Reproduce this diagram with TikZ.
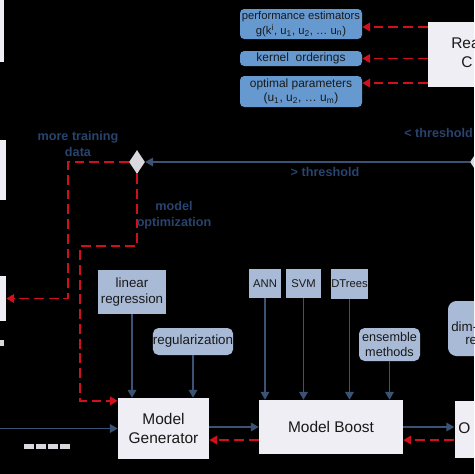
\documentclass[tikz,border=0pt]{standalone}
\usepackage{fontspec}
\setmainfont{Liberation Sans}
\usepackage{tikz}
\usetikzlibrary{positioning,arrows.meta,shapes.geometric}
\definecolor{figPale}{HTML}{EEEEF4}
\definecolor{figSteel}{HTML}{A9BAD6}
\definecolor{figMid}{HTML}{6699CF}
\definecolor{figArrow}{HTML}{3A5273}
\definecolor{figLabel}{HTML}{28436E}
\definecolor{figRed}{HTML}{D0101A}
\definecolor{figGray}{HTML}{D8D8DE}

\begin{document}
\begin{tikzpicture}[x=0.25mm, y=-0.25mm,
  >={Triangle[length=5.5pt,width=6pt]},
  every node/.style={font=\fontsize{11}{13}\selectfont, text=black!90},
  stagebox/.style={rectangle, fill=figPale, inner sep=0pt, align=center},
  toolbox/.style={rectangle, fill=figSteel, inner sep=0pt, align=center,
    font=\fontsize{9.5}{11.5}\selectfont},
  toolround/.style={toolbox, rounded corners=4pt},
  outbox/.style={rectangle, rounded corners=3pt, fill=figMid, inner sep=0pt,
    align=center, font=\fontsize{8.5}{10}\selectfont},
  gate/.style={diamond, fill=figGray, minimum width=4mm, minimum height=6mm, inner sep=0pt},
  flowlabel/.style={font=\fontsize{9}{11}\selectfont\bfseries, text=figLabel,
    align=center, inner sep=0pt},
  blueflow/.style={->, draw=figArrow, line width=1.1pt},
  redflow/.style={->, draw=figRed, line width=1.4pt, dash pattern=on 7pt off 3.5pt},
]

\useasboundingbox (0,0) rectangle (474,474);
\clip (0,0) rectangle (474,474);
\fill[black] (0,0) rectangle (474,474);

% ======= Left column (cut off) =======
\node[stagebox, minimum width=6mm, minimum height=18mm] (lboxa) at (-8,26) {};
\node[stagebox, minimum width=6.5mm, minimum height=15mm] (lboxb) at (-7,170) {};
\node[stagebox, minimum width=6.5mm, minimum height=11.25mm] (lboxc) at (-7,298.5) {};
\node[stagebox, fill=figGray, minimum width=3.5mm, minimum height=1.5mm] (lboxd) at (-3,343) {};
\foreach \i in {0,...,3}
  \node[stagebox, fill=figGray, minimum width=2.6mm, minimum height=1.3mm] (sq\i) at ({29+12*\i},446.5) {};

% ======= Top outputs =======
\node[outbox, minimum width=30.5mm, minimum height=7.5mm, font=\fontsize{8}{10.5}\selectfont] (perf) at (301,24)
  {performance estimators\\g(k\textsuperscript{i}, u\textsubscript{1}, u\textsubscript{2}, \dots\ u\textsubscript{n})};
\node[outbox, minimum width=30.5mm, minimum height=3.75mm] (kern) at (301,58.5)
  {kernel\ \ orderings};
\node[outbox, minimum width=30.5mm, minimum height=7.75mm] (optp) at (301,91.5)
  {optimal parameters\\(u\textsubscript{1}, u\textsubscript{2}, \dots\ u\textsubscript{m})};

\node[stagebox, minimum width=23mm, minimum height=16.25mm] (rc) at (474,54.5) {};
\node[anchor=west, inner sep=0pt] (rctxta) at (451,43) {Rea};
\node[anchor=west, inner sep=0pt] (rctxtb) at (461,62) {C};

\draw[redflow] ([yshift=-0.75mm]perf.east -| rc.west) -- ([yshift=-0.75mm]perf.east);
\draw[redflow] (kern.east -| rc.west) -- (kern.east);
\draw[redflow] ([yshift=2.1mm]optp.east -| rc.west) -- ([yshift=2.1mm]optp.east);

% ======= Threshold gates =======
\node[gate] (dia) at (137,162) {};
\node[gate] (diaR) at (478,162) {};
\draw[blueflow] (diaR.west) -- (dia.east);
\node[flowlabel] (gtlbl) at (325,172) {> threshold};
\node[flowlabel, anchor=west] (ltlbl) at (404,133) {< threshold};
\node[flowlabel] (moredata) at (78,144) {more training\\data};
\node[flowlabel] (modelopt) at (174,215) {model\\optimization};

% ======= Model Generator =======
\node[toolbox, minimum width=17mm, minimum height=11mm] (linreg) at (132,292) {linear\\regression};
\node[toolround, minimum width=20mm, minimum height=6.75mm] (regul) at (193,341.5) {regularization};
\node[stagebox, minimum width=22.75mm, minimum height=15.25mm] (mg) at (163.5,428.5) {Model\\Generator};

\draw[blueflow] (linreg.south) -- (linreg.south |- mg.north);
\draw[blueflow] (regul.south) -- (regul.south |- mg.north);
\coordinate (inL) at (-10,428.5);
\draw[blueflow] (inL) -- (mg.west);

% feedback loops
\draw[redflow] (dia.west) -- ++(-61,0) |- (lboxc.east);
\draw[redflow] (dia.south) -- ++(0,72) -- ++(-57,0) |- ([yshift=6.9mm]mg.west);

% ======= Model Boost =======
\node[toolbox, font=\fontsize{8}{10}\selectfont, minimum width=8mm, minimum height=7.25mm] (ann) at (265,283.5) {ANN};
\node[toolbox, font=\fontsize{8}{10}\selectfont, minimum width=8.75mm, minimum height=7.25mm] (svm) at (303.5,283.5) {SVM};
\node[toolbox, font=\fontsize{8}{10}\selectfont, minimum width=9.25mm, minimum height=7.5mm] (dtrees) at (349.5,284) {DTrees};
\node[toolround, minimum width=15.25mm, minimum height=8.25mm, font=\fontsize{9}{10.5}\selectfont] (ensem) at (389.5,344.5) {ensemble\\methods};
\node[stagebox, minimum width=36mm, minimum height=13.5mm] (mb) at (331,427) {Model Boost};

\foreach \t in {ann,svm,dtrees,ensem}
  \draw[blueflow] (\t.south) -- (\t.south |- mb.north);

\draw[blueflow] (mg.east |- mb.west) -- (mb.west);
\draw[redflow] ([yshift=-3.25mm]mb.west) -- ([yshift=-3.25mm]mb.west -| mg.east);

% ======= Right column (cut off) =======
\node[toolround, minimum width=18mm, minimum height=13.75mm, rounded corners=6pt] (dimred) at (484,328.5) {};
\node[anchor=west, inner sep=0pt, font=\fontsize{9.5}{11}\selectfont] (dimtxta) at (451,327) {dim-};
\node[anchor=west, inner sep=0pt, font=\fontsize{9.5}{11}\selectfont] (dimtxtb) at (465,341) {re};
\node[stagebox, minimum width=18.75mm, minimum height=14.25mm] (obox) at (492,429.5) {};
\node[anchor=west, inner sep=0pt] (otxt) at (458,428) {O};

\draw[blueflow] (mb.east) -- (mb.east -| obox.west);
\draw[redflow] ([yshift=-3.25mm]mb.east -| obox.west) -- ([yshift=-3.25mm]mb.east);

\end{tikzpicture}
\end{document}
